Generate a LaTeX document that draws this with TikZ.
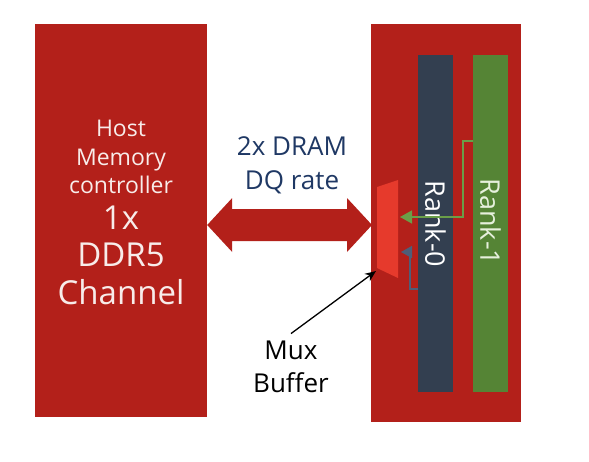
\documentclass[tikz,border=0pt]{standalone}
\usepackage{fontspec}
\setmainfont{Open Sans}
\usetikzlibrary{arrows.meta,calc}
\definecolor{boxred}{HTML}{B3201A}
\definecolor{muxred}{HTML}{E63A2C}
\definecolor{navybar}{HTML}{333F50}
\definecolor{greenbar}{HTML}{558435}
\definecolor{labelnavy}{HTML}{1F3864}
\definecolor{rankgreen}{HTML}{6A9E48}
\definecolor{rankslate}{HTML}{4E5E78}
\definecolor{hosttext}{HTML}{F8ECEA}
\definecolor{rank1text}{HTML}{E6F0DC}
\tikzset{
  block/.style={fill=boxred, draw=none, inner sep=0pt},
  bar/.style={draw=none, inner sep=0pt},
  ranklink/.style={line width=1.5pt, line join=miter},
}
\begin{document}
\begin{tikzpicture}[x=1pt,y=-1pt]
\useasboundingbox (0,0) rectangle (589,461);
\fill[white] (0,0) rectangle (589,461);
% blocks
\node[block, minimum width=172pt, minimum height=393pt] (host) at (121,220.5) {};
\node[block, minimum width=150pt, minimum height=398pt] (dimm) at (446,223) {};
\node[bar, fill=navybar, minimum width=35pt, minimum height=337pt] (rank0) at (435.5,223.5) {};
\node[bar, fill=greenbar, minimum width=35pt, minimum height=337pt] (rank1) at (490.5,223.5) {};
% mux buffer
\coordinate (mux) at (387.5,229);
\fill[muxred] (377,187) -- (398,180) -- (398,278) -- (377,268) -- cycle;
\coordinate (muxsw) at (376,271);
% texts
\node[text=hosttext, align=center, font=\fontsize{23}{28.5}\selectfont] (hosttxt1) at (121,157) {Host\\Memory\\controller};
\node[text=hosttext, align=center, font=\fontsize{33}{37.5}\selectfont] (hosttxt2) at (121,255) {1x\\DDR5\\Channel};
\node[text=labelnavy, align=center, font=\fontsize{26}{34}\selectfont] (rate) at (292,165) {2x DRAM\\DQ rate};
\node[text=black, align=center, font=\fontsize{26}{33}\selectfont] (muxlbl) at (291,367) {Mux\\Buffer};
\node[text=white, rotate=-90, font=\fontsize{27}{30}\selectfont] (r0txt) at (rank0 |- 0,224) {Rank-0};
\node[text=rank1text, rotate=-90, font=\fontsize{27}{30}\selectfont] (r1txt) at (rank1 |- 0,222) {Rank-1};
% double arrow between host and mux
\coordinate (L) at (host.east |- 0,225);
\coordinate (R) at (372,225);
\fill[boxred] (L) -- ($(L)+(25,-27)$) -- ($(L)+(25,-16)$) -- ($(R)+(-25,-16)$) -- ($(R)+(-25,-27)$) -- (R)
  -- ($(R)+(-25,27)$) -- ($(R)+(-25,16)$) -- ($(L)+(25,16)$) -- ($(L)+(25,27)$) -- cycle;
% rank links
\draw[ranklink, draw=rankgreen, -{Triangle[length=12pt,width=13pt]}]
  (rank1.west |- 0,141) -- (463,141) -- (463,217) -- (400,217);
\draw[ranklink, draw=rankslate, -{Triangle[length=11pt,width=12pt]}]
  (rank0.west |- 0,289) -- (410,289) -- (410,252) -- (401,252);
% mux label arrow
\draw[line width=1.3pt, -{Stealth[length=11pt,width=9pt]}] ($(muxlbl.north)+(0,-4)$) -- (muxsw);
\end{tikzpicture}
\end{document}
